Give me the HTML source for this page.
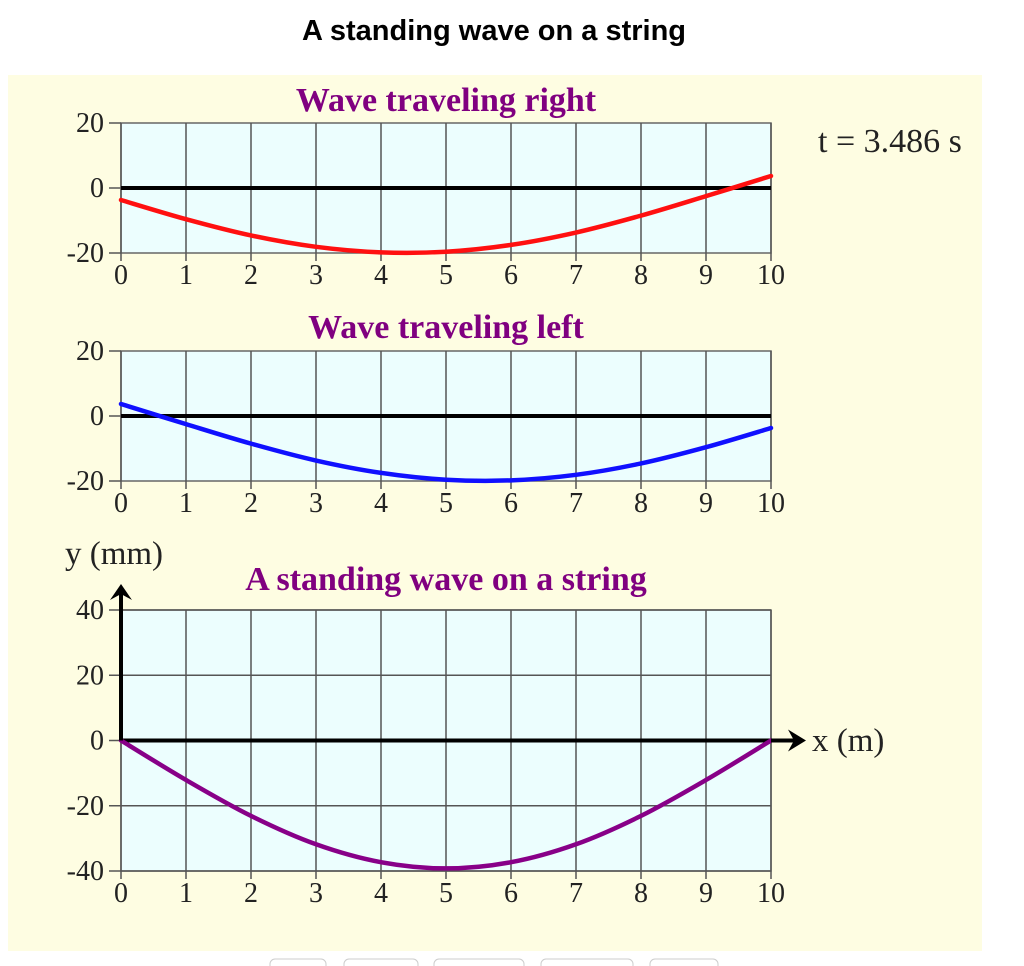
<!DOCTYPE html>
<html><head><meta charset="utf-8"><style>
body{margin:0;background:#fff;width:1024px;height:966px;overflow:hidden}
svg{display:block}
.lab{font-family:"Liberation Serif",serif;font-size:28px;fill:#222}
.ttl{font-family:"Liberation Serif",serif;font-size:34px;font-weight:bold;fill:#800080}
</style></head><body>
<svg id="c" width="1024" height="966">
<text x="494" y="40" text-anchor="middle" font-family="Liberation Sans,sans-serif" font-weight="bold" font-size="29" fill="#000">A standing wave on a string</text>
<rect x="8" y="75" width="974" height="876" fill="#fefde2"/>
<text x="818" y="152" class="lab" style="font-size:34px">t = 3.486 s</text>
<rect x="270" y="959" width="56" height="12" rx="5" fill="#fff" stroke="#ccc"/>
<rect x="344" y="959" width="74" height="12" rx="5" fill="#fff" stroke="#ccc"/>
<rect x="434" y="959" width="90" height="12" rx="5" fill="#fff" stroke="#ccc"/>
<rect x="541" y="959" width="92" height="12" rx="5" fill="#fff" stroke="#ccc"/>
<rect x="650" y="959" width="68" height="12" rx="5" fill="#fff" stroke="#ccc"/>
</svg>
<script>
const xs=[0,1,2,3,4,5,6,7,8,9,10];
const rightWave=[-3.7,-9.6,-14.6,-18.1,-19.8,-19.6,-17.5,-13.7,-8.5,-2.5,3.7];
const leftWave=[3.7,-2.5,-8.5,-13.7,-17.5,-19.6,-19.8,-18.1,-14.6,-9.6,-3.7];
const standingWave=[0,-12.1,-23.1,-31.8,-37.3,-39.2,-37.3,-31.8,-23.1,-12.1,0];
const xTicks=[0,1,2,3,4,5,6,7,8,9,10];
const yTicksSmall=[20,0,-20];
const yTicksBig=[40,20,0,-20,-40];

const svg=document.getElementById('c');
const NS='http://www.w3.org/2000/svg';
function mk(tag,attrs,parent){const e=document.createElementNS(NS,tag);for(const k in attrs)e.setAttribute(k,attrs[k]);(parent||svg).appendChild(e);return e;}
const X0=121,X1=771;
function sx(v){return X0+(v-0)/(10-0)*(X1-X0);}
function smooth(pts){let d='M'+pts[0][0]+','+pts[0][1];for(let i=0;i<pts.length-1;i++){const p0=pts[Math.max(0,i-1)],p1=pts[i],p2=pts[i+1],p3=pts[Math.min(pts.length-1,i+2)];d+=' C'+(p1[0]+(p2[0]-p0[0])/6)+','+(p1[1]+(p2[1]-p0[1])/6)+' '+(p2[0]-(p3[0]-p1[0])/6)+','+(p2[1]-(p3[1]-p1[1])/6)+' '+p2[0]+','+p2[1];}return d;}

function plot(name,top,bot,ymax,ymin,yTicks,hGrid,data,color,title,titleY){
  const sy=v=>top+(ymax-v)/(ymax-ymin)*(bot-top);
  const g=mk('g',{});
  
  
  const bg=mk('rect',{x:X0,y:top,width:X1-X0,height:bot-top,fill:'#ecfefe',stroke:'#666','stroke-width':1.5},g);
  
  
  xTicks.forEach(t=>{
    const l=mk('line',{x1:sx(t),x2:sx(t),y1:top,y2:bot+8,stroke:'#555','stroke-width':1.5},g);
    
    
    const tx=mk('text',{x:sx(t),y:bot+31,'text-anchor':'middle',class:'lab'},g);tx.textContent=t;
    
    
  });
  yTicks.forEach(t=>{
    if(hGrid){const l=mk('line',{x1:X0,x2:X1,y1:sy(t),y2:sy(t),stroke:'#555','stroke-width':1.5},g);
      
      }
    mk('line',{x1:X0-12,x2:X0,y1:sy(t),y2:sy(t),stroke:'#555','stroke-width':1.5},g);
    const tx=mk('text',{x:X0-17,y:sy(t)+9,'text-anchor':'end',class:'lab'},g);tx.textContent=t;
    
    
  });
  const z=mk('line',{x1:X0,x2:X1,y1:sy(0),y2:sy(0),stroke:'#000','stroke-width':4},g);
  
  
  const pts=xs.map((x,i)=>[sx(x),sy(data[i])]);
  const p=mk('path',{d:smooth(pts),fill:'none',stroke:color,'stroke-width':4.5,'stroke-linecap':'round'},g);
  
  
  const tt=mk('text',{x:446,y:titleY,'text-anchor':'middle',class:'ttl'},g);tt.textContent=title;
  
  
  return sy;
}
plot('right-wave-chart',123,253,20,-20,yTicksSmall,false,rightWave,'#ff1010','Wave traveling right',111);
plot('left-wave-chart',351,481,20,-20,yTicksSmall,false,leftWave,'#1010ff','Wave traveling left',338);
const sy3=plot('standing-wave-chart',610,871,40,-40,yTicksBig,true,standingWave,'#880088','A standing wave on a string',590);
const ya=mk('path',{d:'M'+X0+','+sy3(0)+' L'+X0+',592',stroke:'#000','stroke-width':4,fill:'none'});


const yh=mk('path',{d:'M'+(X0-11)+',600 L'+X0+',584 L'+(X0+11)+',600 L'+X0+',594 Z',fill:'#000'});


const y0=sy3(0);
const xa=mk('path',{d:'M'+X1+','+y0+' L798,'+y0,stroke:'#000','stroke-width':4,fill:'none'});


const xh=mk('path',{d:'M788,'+(y0-11)+' L806,'+y0+' L788,'+(y0+11)+' L794,'+y0+' Z',fill:'#000'});


const yt=mk('text',{x:114,y:564,'text-anchor':'middle',class:'lab',style:'font-size:33px'});yt.textContent='y (mm)';


const xt=mk('text',{x:812,y:751,class:'lab',style:'font-size:33px'});xt.textContent='x (m)';


</script>
</body></html>
